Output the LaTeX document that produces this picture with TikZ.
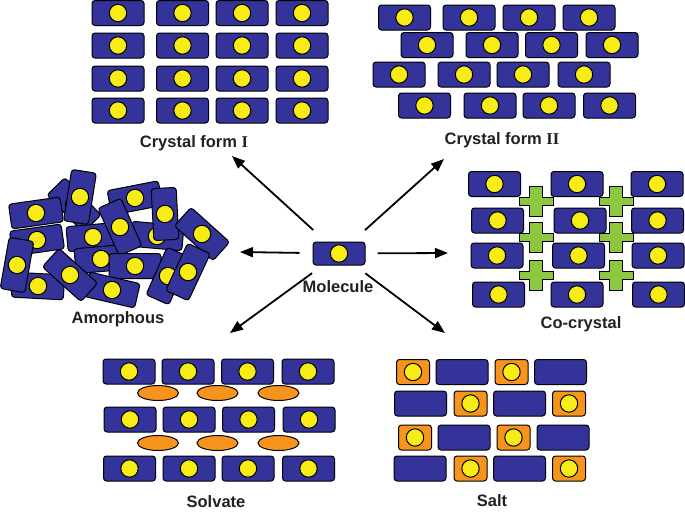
\documentclass[tikz,border=0pt]{standalone}
\usepackage{fontspec}
\setmainfont{Liberation Sans}
\newfontfamily\numfont{Liberation Serif}
\usetikzlibrary{arrows.meta,shapes.geometric}
\definecolor{molblue}{RGB}{51,51,153}
\definecolor{dotyellow}{RGB}{248,236,22}
\definecolor{solvorange}{RGB}{247,148,29}
\definecolor{guestgreen}{RGB}{141,198,63}
\definecolor{labelgray}{RGB}{35,31,32}

\begin{document}
\begin{tikzpicture}[x=1pt, y=-1pt]
\tikzstyle{plainbox}=[draw, line width=1pt, rounded corners=3pt, fill=molblue, minimum width=52pt, minimum height=25pt, inner sep=0pt]
\tikzstyle{molbox}=[plainbox, path picture={\draw[fill=dotyellow, line width=1pt] (path picture bounding box.center) circle (8.7pt);}]
\tikzstyle{ionbox}=[molbox, fill=solvorange, minimum width=33pt]
\tikzstyle{solvent}=[draw, ellipse, line width=1pt, fill=solvorange, minimum width=41pt, minimum height=15pt, inner sep=0pt]
\tikzstyle{guest}=[draw, line width=1pt, fill=guestgreen]
\tikzstyle{caption}=[text=labelgray, font=\bfseries\fontsize{16.5}{19}\selectfont, inner sep=0pt]
\tikzstyle{arrow}=[-{Triangle[length=13pt,width=10pt]}, line width=1.8pt, shorten <=13pt]
    \useasboundingbox (0,0) rectangle (685,512);
    % molecule in the middle
    \node[molbox, minimum height=23pt] (mol) at (339,253.5) {};
    \node[caption] (molname) at (338,287) {Molecule};
    % crystal form I
    \foreach \y [count=\r] in {13,45.5,78.5,110.5}
        \foreach \x [count=\c] in {118,182.5,242,302}
            \node[molbox] (fI-\r-\c) at (\x,\y) {};
    \node[caption] (fIname) at (194,143) {Crystal form {\numfont\bfseries I}};
    % crystal form II
    \foreach \y/\xs [count=\r] in {17.5/{404.5,469,529,589}, 45/{427,492,551.5,612}, 74.5/{399,464,523,584}, 105.5/{424.5,490,549,609.5}}
        \foreach \x [count=\c] in \xs
            \node[molbox] (fII-\r-\c) at (\x,\y) {};
    \node[caption] (fIIname) at (502,140) {Crystal form {\numfont\bfseries II}};
    % amorphous
    \foreach \x/\y/\a [count=\i] in {74/205/-46, 93/237/5, 101/259/5, 37/240/8, 38/286/-3, 17/265/80, 36/213/8, 80/197/81, 157/236/-5, 135/198/11, 120/227/-66, 165/214/93, 202/234/-42, 135/266/0, 112/290/-13, 70/275/-42, 168/276/66, 188/272/65}
        \node[molbox, rotate=\a] (am-\i) at (\x,\y) {};
    \node[caption] (amname) at (118,319) {Amorphous};
    % co-crystal
    \foreach \y/\xs [count=\r] in {184/{494.5,577,657}, 220.5/{497.5,580,657.5}, 255.5/{497,578.5,658}, 294.5/{498.5,577,658.5}}
        \foreach \x [count=\c] in \xs
            \node[molbox] (co-\r-\c) at (\x,\y) {};
    \foreach \x in {536,616}
        \foreach \y in {201,237,275}
            \draw[guest] (\x-6.5,\y-15) -- (\x+6.5,\y-15) -- (\x+6.5,\y-4) -- (\x+17,\y-4) -- (\x+17,\y+4) -- (\x+6.5,\y+4) -- (\x+6.5,\y+15) -- (\x-6.5,\y+15) -- (\x-6.5,\y+4) -- (\x-17,\y+4) -- (\x-17,\y-4) -- (\x-6.5,\y-4) -- cycle;
    \node[caption] (coname) at (581,324) {Co-crystal};
    % solvate
    \foreach \y/\xs [count=\r] in {371.5/{129,188,247.5,308}, 419.5/{130,189,248.5,309}, 468.5/{129.5,189,248,308.5}}
        \foreach \x [count=\c] in \xs
            \node[molbox] (sv-\r-\c) at (\x,\y) {};
    \foreach \y [count=\r] in {393,443}
        \foreach \x [count=\c] in {158,217.5,278.5}
            \node[solvent] (sol-\r-\c) at (\x,\y) {};
    \node[caption] (svname) at (216,502) {Solvate};
    % salt
    \foreach \x/\y [count=\i] in {413/372, 511.5/372, 470.5/403.5, 569/403.5, 415/437.5, 513.5/437.5, 470.5/468.5, 569/468.5}
        \node[ionbox] (sa-\i) at (\x,\y) {};
    \foreach \x/\y [count=\i] in {462/372, 560.5/372, 420.5/403.5, 519.5/403.5, 464/437.5, 563/437.5, 420/468.5, 519.5/468.5}
        \node[plainbox] (sb-\i) at (\x,\y) {};
    \node[caption] (saname) at (492,501) {Salt};
    % arrows
    \coordinate (toI) at (232,156);
    \coordinate (toII) at (444,159);
    \coordinate (toam) at (240,252);
    \coordinate (toco) at (448,253);
    \coordinate (tosv) at (230,333);
    \coordinate (tosa) at (445,333);
    \draw [arrow, shorten <=17pt] (mol) -- (toI);
    \draw [arrow, shorten <=17pt] (mol) -- (toII);
    \draw [arrow] (mol) -- (toam);
    \draw [arrow, shorten <=12pt] (mol) -- (toco);
    \draw [arrow] (mol) -- (tosv);
    \draw [arrow] (mol) -- (tosa);
\end{tikzpicture}
\end{document}
